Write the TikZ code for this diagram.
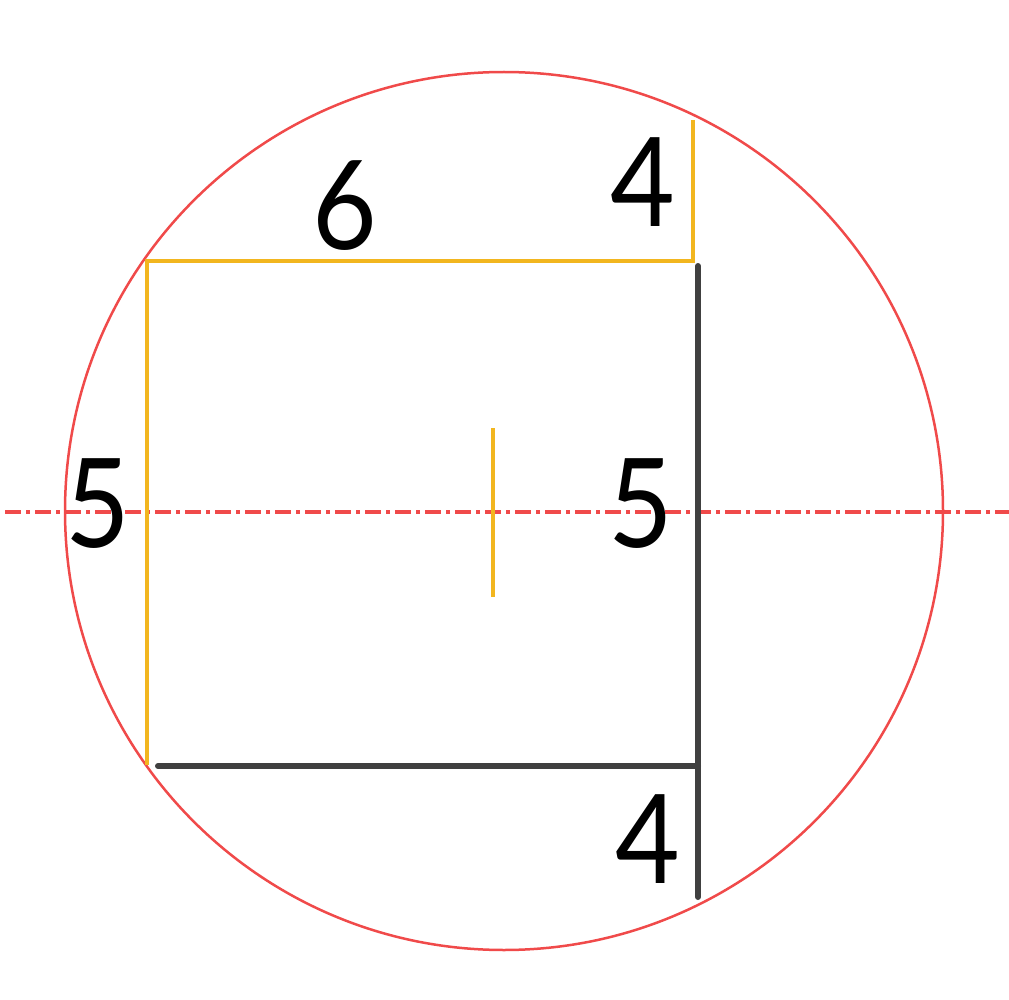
\documentclass[tikz,border=0pt]{standalone}
\usepackage{fontspec}
\setmainfont{Lato}
\usetikzlibrary{calc,positioning}
\definecolor{dimyellow}{HTML}{F2B61F}
\definecolor{wallgray}{HTML}{404040}
\definecolor{axisred}{HTML}{F04A4A}

\begin{document}
\begin{tikzpicture}[x=1pt,y=-1pt,
    dim/.style={dimyellow,line width=4pt},
    wall/.style={wallgray,line width=6pt,line cap=round},
    axis/.style={axisred,line width=3.5pt,dash pattern=on 16pt off 5pt on 4pt off 5pt},
    num/.style={inner sep=0pt,anchor=base,font=\fontsize{124}{124}\selectfont}]

    \useasboundingbox (0,0) rectangle (1009,1000);

    % outline
    \node[circle,draw=axisred,line width=2.5pt,minimum size=878pt,inner sep=0pt] (ring) at (504,511) {};

    % corners
    \coordinate (TL) at (147,261);
    \coordinate (TR) at (693,261);
    \coordinate (TT) at (693,120);
    \coordinate (BL) at (147,765);
    \coordinate (WT) at (698,266);
    \coordinate (WB) at (698,897);
    \coordinate (FL) at (158,766);
    \coordinate (FR) at (698,766);
    \coordinate (MT) at (493,428);
    \coordinate (MB) at (493,597);
    \coordinate (AL) at (5,512);
    \coordinate (AR) at (1009,512);

    \draw[axis] (AL) -- (AR);

    \draw[dim] (TT) -- (TR) -- (TL) -- (BL);
    \draw[dim] (MT) -- (MB);
    \draw[wall] (WT) -- (WB);
    \draw[wall] (FL) -- (FR);

    \node[num,xscale=0.9] (six)   at (345,250) {6};
    \node[num,xscale=0.9] (fourT) at (643,227) {4};
    \node[num,xscale=0.9] (fiveL) at (98,547)  {5};
    \node[num,xscale=0.9] (fiveR) at (641,547) {5};
    \node[num,xscale=0.9] (fourB) at (648,883) {4};

\end{tikzpicture}
\end{document}
